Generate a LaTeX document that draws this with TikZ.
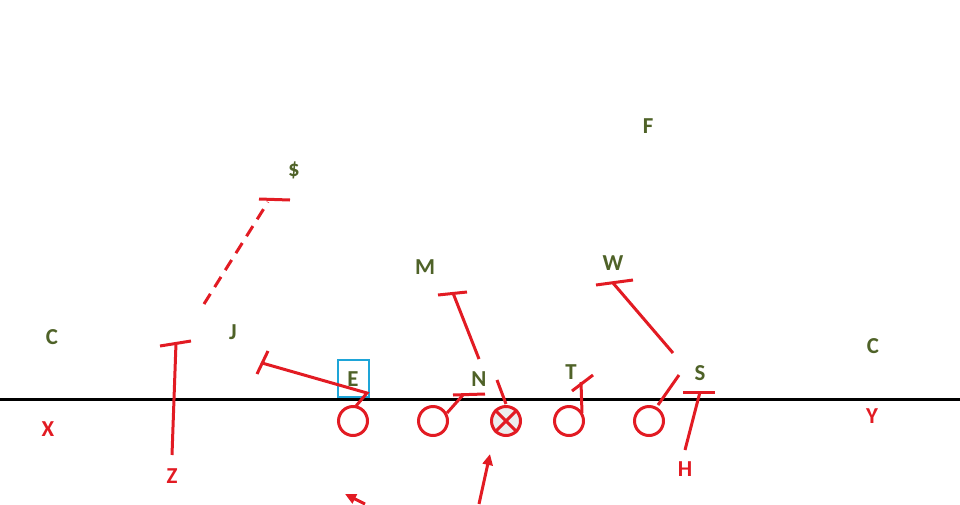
\documentclass[tikz,border=0pt]{standalone}
\usepackage{fontspec}
\setmainfont{Carlito}
\usetikzlibrary{arrows.meta}
\definecolor{playred}{RGB}{226,27,35}
\definecolor{defgreen}{RGB}{79,98,40}
\definecolor{boxblue}{RGB}{30,165,216}
\tikzset{
  route/.style={draw=playred, line width=0.06cm},
  player/.style={circle, draw=playred, line width=0.06cm, minimum size=0.58cm, inner sep=0pt},
  deflbl/.style={text=defgreen, font=\bfseries\fontsize{13}{15}\selectfont, inner sep=0pt},
  offlbl/.style={text=playred, font=\bfseries\fontsize{13}{15}\selectfont, inner sep=0pt},
}

\begin{document}
\begin{tikzpicture}[x=0.02cm, y=-0.02cm]
		%%%%% START %%%%%
		\useasboundingbox (0,0) rectangle (960,504);
		
		% line of scrimmage
		\draw[line width=0.06cm] (0,399) -- (960,399);
		
		% offense
		\node[player] (lt) at (353,421) {};
		\node[player] (lg) at (433,421) {};
		\node[player, fill=black!7] (ctr) at (506,421) {};
		\draw[route] (ctr.north west) -- (ctr.south east);
		\draw[route] (ctr.north east) -- (ctr.south west);
		\node[player] (rg) at (569,421) {};
		\node[player] (rt) at (649,421) {};
		
		\node[offlbl] (x) at (48,429) {X};
		\node[offlbl] (y) at (872,416) {Y};
		\node[offlbl] (z) at (172,476) {Z};
		\node[offlbl] (h) at (685,469) {H};
		
		% defense
		\node[deflbl] (cl) at (52,337) {C};
		\node[deflbl] (cr) at (873,346) {C};
		\node[deflbl] (j) at (233,332) {J};
		\node[deflbl] (dol) at (294,170) {\$};
		\node[deflbl] (m) at (425,267) {M};
		\node[deflbl] (f) at (648,126) {F};
		\node[deflbl] (w) at (613,263) {W};
		\node[deflbl] (n) at (479,379) {N};
		\node[deflbl] (t) at (571,372) {T};
		\node[deflbl] (s) at (700,373) {S};
		\node[deflbl] (e) at (353,379) {E};
		\draw[draw=boxblue, line width=0.05cm] (338,360) rectangle (369,397);
		
		% Z block
		\draw[route] (172,455) -- (176,343);
		\draw[route] (160,346) -- (191,341);
		
		% $ dashed
		\draw[route, dash pattern=on 0.24cm off 0.16cm] (204,304) -- (268,202);
		\draw[route] (259,199) -- (290,200);
		
		% tackle to J
		\draw[route] (356,406) -- (367,393) -- (262,363);
		\draw[route] (257,374) -- (268,351);
		
		% guard to N
		\draw[route] (447,413) -- (463,395);
		\draw[route] (453,395) -- (485,394);
		
		% center
		\draw[route] (506,404) -- (497,380);
		
		% M
		\draw[route] (479,359) -- (453,293);
		\draw[route] (438,295) -- (467,292);
		
		% T
		\draw[route] (582,413) -- (581,382);
		\draw[route] (572,391) -- (593,375);
		
		% W
		\draw[route] (658,405) -- (679,375);
		\draw[route] (673,353) -- (613,283);
		\draw[route] (596,285) -- (633,280);
		
		% H on S
		\draw[route] (685,450) -- (700,392);
		\draw[route] (683,392) -- (715,392);
		
		% bottom arrows
		\draw[route, -{Triangle[length=0.22cm, width=0.2cm]}] (365,504) -- (345,494);
		\draw[route, -{Triangle[length=0.22cm, width=0.2cm]}] (479,504) -- (490,454);
		
		%%%%% END %%%%%
\end{tikzpicture}
\end{document}
